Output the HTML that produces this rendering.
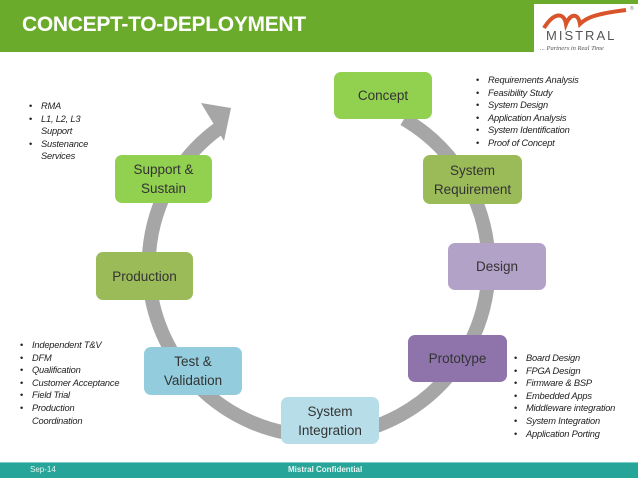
<!DOCTYPE html>
<html><head><style>
body{margin:0;width:638px;height:479px;position:relative;background:#fff;font-family:"Liberation Sans",sans-serif;overflow:hidden}
.hdr{position:absolute;left:0;top:0;width:638px;height:52px;background:#6aab2b}
.hdr h1{position:absolute;left:22px;top:13px;margin:0;color:#fff;font-size:21px;font-weight:bold;letter-spacing:-0.3px}
.logo{position:absolute;left:534px;top:4px;width:104px;height:48px;background:#fff}
.box{position:absolute;border-radius:7px;display:flex;align-items:center;justify-content:center;text-align:center;font-size:13.5px;color:#333;line-height:19px}
ul{position:absolute;margin:0;padding:0;list-style:none;font-style:italic;font-size:9.3px;color:#222;line-height:12.6px;letter-spacing:-0.2px}
li{padding-left:12px;position:relative;white-space:nowrap}
li:before{content:"•";position:absolute;left:0;font-style:normal}
.ftr{position:absolute;left:0;top:462px;width:638px;height:15px;background:#27a598;border-top:1px solid #7fd0c8;color:#e8f5f3;font-size:8px}
</style></head><body>
<div class="hdr"><h1>CONCEPT-TO-DEPLOYMENT</h1></div>
<div class="logo">
<svg width="104" height="48"><path d="M10 24 C20 8,30 8,32 20 C36 10,44 8,46 20 C52 14,60 10,92 6" stroke="#d9532b" stroke-width="4" fill="none"/>
<text x="12" y="36" font-size="13" fill="#555" font-family="Liberation Sans" letter-spacing="2">MISTRAL</text>
<text x="6" y="46" font-size="6.5" fill="#555" font-style="italic" font-family="Liberation Serif">... Partners in Real Time</text>
<text x="96" y="6" font-size="5" fill="#777">®</text></svg></div>
<svg style="position:absolute;left:0;top:0" width="638" height="479">
<path d="M404 119 A170 170 0 1 1 218 129" stroke="#a6a6a6" stroke-width="14" fill="none"/>
<polygon points="231,108 201,103 224,141" fill="#a6a6a6"/>
</svg>
<div class="box" style="left:334px;top:72px;width:98px;height:47px;background:#92d050">Concept</div>
<div class="box" style="left:423px;top:155px;width:99px;height:49px;background:#9bbb59">System<br>Requirement</div>
<div class="box" style="left:448px;top:243px;width:98px;height:47px;background:#b3a2c7">Design</div>
<div class="box" style="left:408px;top:335px;width:99px;height:47px;background:#8f74ac">Prototype</div>
<div class="box" style="left:281px;top:397px;width:98px;height:47px;background:#b7dee8">System<br>Integration</div>
<div class="box" style="left:144px;top:347px;width:98px;height:48px;background:#93cddd">Test &amp;<br>Validation</div>
<div class="box" style="left:96px;top:252px;width:97px;height:48px;background:#9bbb59">Production</div>
<div class="box" style="left:115px;top:155px;width:97px;height:48px;background:#92d050">Support &amp;<br>Sustain</div>
<ul style="left:476px;top:74px"><li>Requirements Analysis</li><li>Feasibility Study</li><li>System Design</li><li>Application Analysis</li><li>System Identification</li><li>Proof of Concept</li></ul>
<ul style="left:29px;top:100px"><li>RMA</li><li>L1, L2, L3<br>Support</li><li>Sustenance<br>Services</li></ul>
<ul style="left:20px;top:339px"><li>Independent T&amp;V</li><li>DFM</li><li>Qualification</li><li>Customer Acceptance</li><li>Field Trial</li><li>Production<br>Coordination</li></ul>
<ul style="left:514px;top:352px"><li>Board Design</li><li>FPGA Design</li><li>Firmware &amp; BSP</li><li>Embedded Apps</li><li>Middleware integration</li><li>System Integration</li><li>Application Porting</li></ul>
<div class="ftr"><span style="position:absolute;left:30px;top:2px">Sep-14</span><span style="position:absolute;left:288px;top:2px;font-weight:bold">Mistral Confidential</span></div>
</body></html>
